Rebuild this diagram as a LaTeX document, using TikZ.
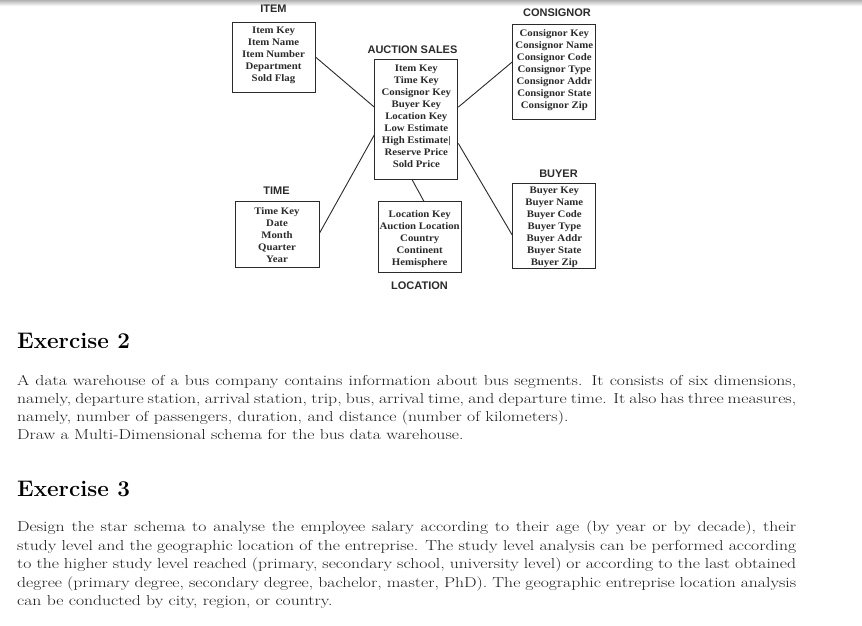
\documentclass[tikz,border=0pt]{standalone}
\usepackage{fontspec}
\setmainfont{Latin Modern Roman}
\newfontfamily\bodyfont[FakeStretch=1.227]{Latin Modern Roman}
\newfontfamily\dimsans{Liberation Sans}
\newfontfamily\dimserif[FakeStretch=1.08]{Liberation Serif}
\usetikzlibrary{calc}
\definecolor{dimgray}{HTML}{2B2B2B}
\tikzset{
  dimbox/.style={draw=dimgray, line width=1pt, inner sep=0pt},
  dimtext/.style={align=center, text=dimgray, inner sep=0pt, font=\dimserif\bfseries\fontsize{10}{12}\selectfont},
  dimlabel/.style={text=dimgray, inner sep=0pt, font=\dimsans\bfseries\fontsize{11}{13}\selectfont},
  link/.style={draw=dimgray, line width=0.9pt},
  heading/.style={anchor=base west, inner sep=0pt, font=\bfseries\fontsize{22.5}{27}\selectfont},
  bodyline/.style={anchor=base west, inner sep=0pt, text=black!90, font=\bodyfont\fontsize{14.4}{18}\selectfont}
}
\newcommand{\jline}[1]{\makebox[779pt][s]{#1}}
\begin{document}
\begin{tikzpicture}[x=1pt,y=-1pt]
\useasboundingbox (0,0) rectangle (862,625);
\fill[white] (0,0) rectangle (862,625);
\shade[top color=gray!60, bottom color=white] (0,0) rectangle (862,6);

% boxes
\node[dimbox, minimum width=83, minimum height=70] (item) at (273.5,57) {};
\node[dimbox, minimum width=83, minimum height=120] (auction) at (416.3,119.2) {};
\node[dimbox, minimum width=83, minimum height=95] (consignor) at (554.3,71.5) {};
\node[dimbox, minimum width=84, minimum height=65.5] (time) at (277,234.5) {};
\node[dimbox, minimum width=83, minimum height=70.5] (location) at (419.7,237) {};
\node[dimbox, minimum width=83.3, minimum height=85] (buyer) at (554.3,225.5) {};

% box texts
\node[dimtext] (itemtxt) at (273.5,55) {Item Key\\Item Name\\Item Number\\Department\\Sold Flag};
\node[dimtext] (auctiontxt) at (416.3,116.5) {Item Key\\Time Key\\Consignor Key\\Buyer Key\\Location Key\\Low Estimate\\High Estimate|\\Reserve Price\\Sold Price};
\node[dimtext] (consignortxt) at (554.3,70) {Consignor Key\\Consignor Name\\Consignor Code\\Consignor Type\\Consignor Addr\\Consignor State\\Consignor Zip};
\node[dimtext] (timetxt) at (277,235) {Time Key\\Date\\Month\\Quarter\\Year};
\node[dimtext] (locationtxt) at (419.7,239) {Location Key\\Auction Location\\Country\\Continent\\Hemisphere};
\node[dimtext] (buyertxt) at (554.3,227.5) {Buyer Key\\Buyer Name\\Buyer Code\\Buyer Type\\Buyer Addr\\Buyer State\\Buyer Zip};

% labels
\node[dimlabel] (itemlbl) at (273.5,9) {ITEM};
\node[dimlabel] (auctionlbl) at (412.5,49.5) {AUCTION SALES};
\node[dimlabel] (consignorlbl) at (557,13) {CONSIGNOR};
\node[dimlabel] (timelbl) at (276.5,190.5) {TIME};
\node[dimlabel] (locationlbl) at (419.5,286) {LOCATION};
\node[dimlabel] (buyerlbl) at (558.5,173.5) {BUYER};

% connectors
\draw[link] (item.east) -- ($(auction.north west)!0.4!(auction.south west)$);
\draw[link] ($(time.north east)!0.48!(time.south east)$) -- ($(auction.north west)!0.63!(auction.south west)$);
\draw[link] ($(auction.north east)!0.4!(auction.south east)$) -- ($(consignor.north west)!0.4!(consignor.south west)$);
\draw[link] ($(auction.north east)!0.7!(auction.south east)$) -- ($(buyer.north west)!0.61!(buyer.south west)$);
\draw[link] ($(auction.south west)!0.45!(auction.south east)$) -- ($(location.north west)!0.55!(location.north east)$);

% Exercise 2
\node[heading] (ex2) at (17,348) {Exercise 2};
\node[bodyline] (e2a) at (17,385) {\jline{A data warehouse of a bus company contains information about bus segments. It consists of six dimensions,}};
\node[bodyline] (e2b) at (17,403.3) {\jline{namely, departure station, arrival station, trip, bus, arrival time, and departure time. It also has three measures,}};
\node[bodyline] (e2c) at (17,421.6) {namely, number of passengers, duration, and distance (number of kilometers).};
\node[bodyline] (e2d) at (17,439.9) {Draw a Multi-Dimensional schema for the bus data warehouse.};

% Exercise 3
\node[heading] (ex3) at (17,496) {Exercise 3};
\node[bodyline] (e3a) at (17,531.5) {\jline{Design the star schema to analyse the employee salary according to their age (by year or by decade), their}};
\node[bodyline] (e3b) at (17,550) {\jline{study level and the geographic location of the entreprise. The study level analysis can be performed according}};
\node[bodyline] (e3c) at (17,568.5) {\jline{to the higher study level reached (primary, secondary school, university level) or according to the last obtained}};
\node[bodyline] (e3d) at (17,587) {\jline{degree (primary degree, secondary degree, bachelor, master, PhD). The geographic entreprise location analysis}};
\node[bodyline] (e3e) at (17,605.5) {can be conducted by city, region, or country.};
\end{tikzpicture}
\end{document}
